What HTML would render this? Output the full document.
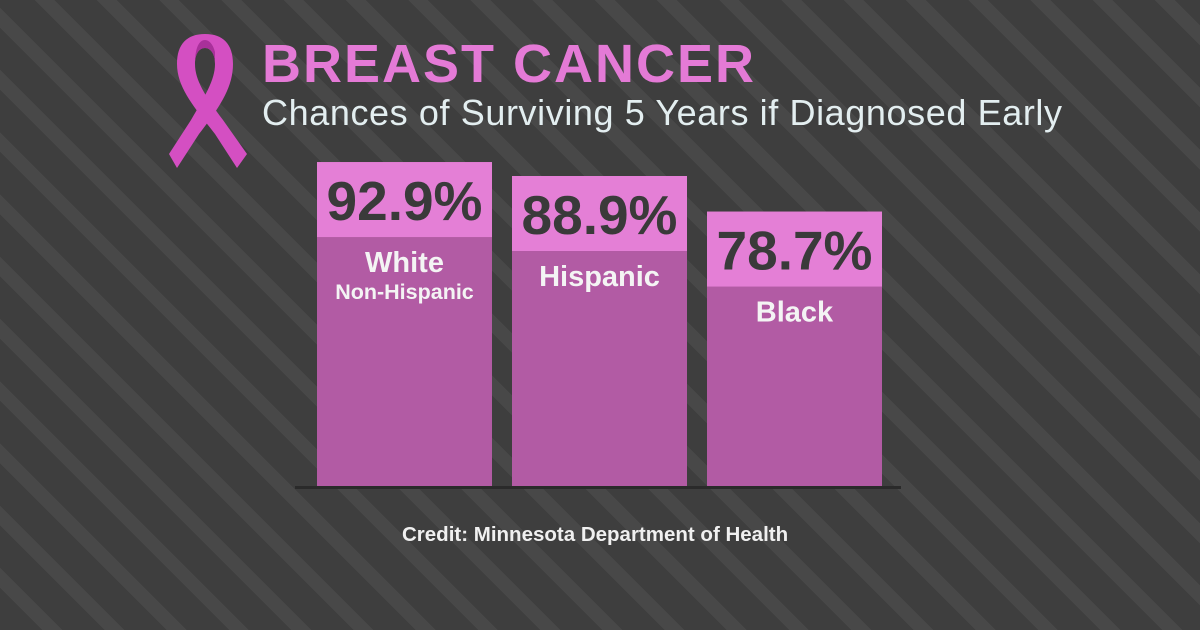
<!DOCTYPE html>
<html><head><meta charset="utf-8"><style>
html,body{margin:0;padding:0;}
body{width:1200px;height:630px;overflow:hidden;position:relative;font-family:"Liberation Sans",sans-serif;
background:repeating-linear-gradient(45deg,#3e3e3e 0px,#3e3e3e 30px,#484848 30px,#484848 44px);}
.t{position:absolute;white-space:nowrap;}
</style></head><body>
<svg style="position:absolute;left:165px;top:30px" width="85" height="142" viewBox="0 0 85 142">
<path d="M40 4 C22 4 12 14 12 34 C12 58 30 78 50 104 L72 138 L82 124 L58 90 C40 66 30 50 30 34 C30 24 34 18 40 18 C46 18 50 24 50 34 C50 50 40 66 26 90 L4 124 L12 138 L34 104 C54 78 68 58 68 34 C68 14 58 4 40 4Z" fill="#d44fc2"/>
<path d="M30 34 C30 24 34 18 40 18 C46 18 50 24 50 34 L50 22 C48 14 44 10 40 10 C34 10 30 18 30 34Z" fill="#a8309a"/>
</svg>
<div class="t" style="left:262px;top:33px;font-size:54px;font-weight:bold;color:#e47ad6;letter-spacing:2px">BREAST CANCER</div>
<div class="t" style="left:262px;top:92px;font-size:36px;letter-spacing:0.6px;color:#e3eef0">Chances of Surviving 5 Years if Diagnosed Early</div>
<svg id="chart" style="position:absolute;left:0;top:0" width="1200" height="630"></svg>
<div class="t" style="left:402px;top:523px;font-size:20.5px;font-weight:bold;color:#f0f0f0">Credit: Minnesota Department of Health</div>
<script>
const categories=["White","Hispanic","Black"];
const subLabels=["Non-Hispanic","",""];
const values=[92.9,88.9,78.7];
const valueLabels=["92.9%","88.9%","78.7%"];
const svg=document.getElementById('chart');
const NS="http://www.w3.org/2000/svg";
const base=486, scale=3.487, x0=317, bw=175, gap=20, head=75;
function y(v){return base-v*scale;}
function mk(t,a){const e=document.createElementNS(NS,t);for(const k in a)e.setAttribute(k,a[k]);svg.appendChild(e);return e;}
values.forEach((v,i)=>{
 const x=x0+i*(bw+gap), top=y(v);
 const b=mk('rect',{x:x,y:top,width:bw,height:base-top,fill:'#b25ba4'});
 
 
 const h=mk('rect',{x:x,y:top,width:bw,height:head,fill:'#e47fd6'});
 
 
 const t=mk('text',{x:x+bw/2,y:top+58,'text-anchor':'middle','font-size':55,'font-weight':'bold',fill:'#3a3a3a','font-family':'Liberation Sans, sans-serif'});
 t.textContent=valueLabels[i];
 
 
 const c=mk('text',{x:x+bw/2,y:top+head+35,'text-anchor':'middle','font-size':29,'font-weight':'bold',fill:'#f4f4f4','font-family':'Liberation Sans, sans-serif'});
 c.textContent=categories[i];
 
 
 if(subLabels[i]){
  const s=mk('text',{x:x+bw/2,y:top+head+62,'text-anchor':'middle','font-size':21.5,'font-weight':'bold',fill:'#f4f4f4','font-family':'Liberation Sans, sans-serif'});
  s.textContent=subLabels[i];
  
  
 }
});
const ax=mk('rect',{x:295,y:base,width:606,height:3,fill:'#2a2a2a'});


</script>
</body></html>
